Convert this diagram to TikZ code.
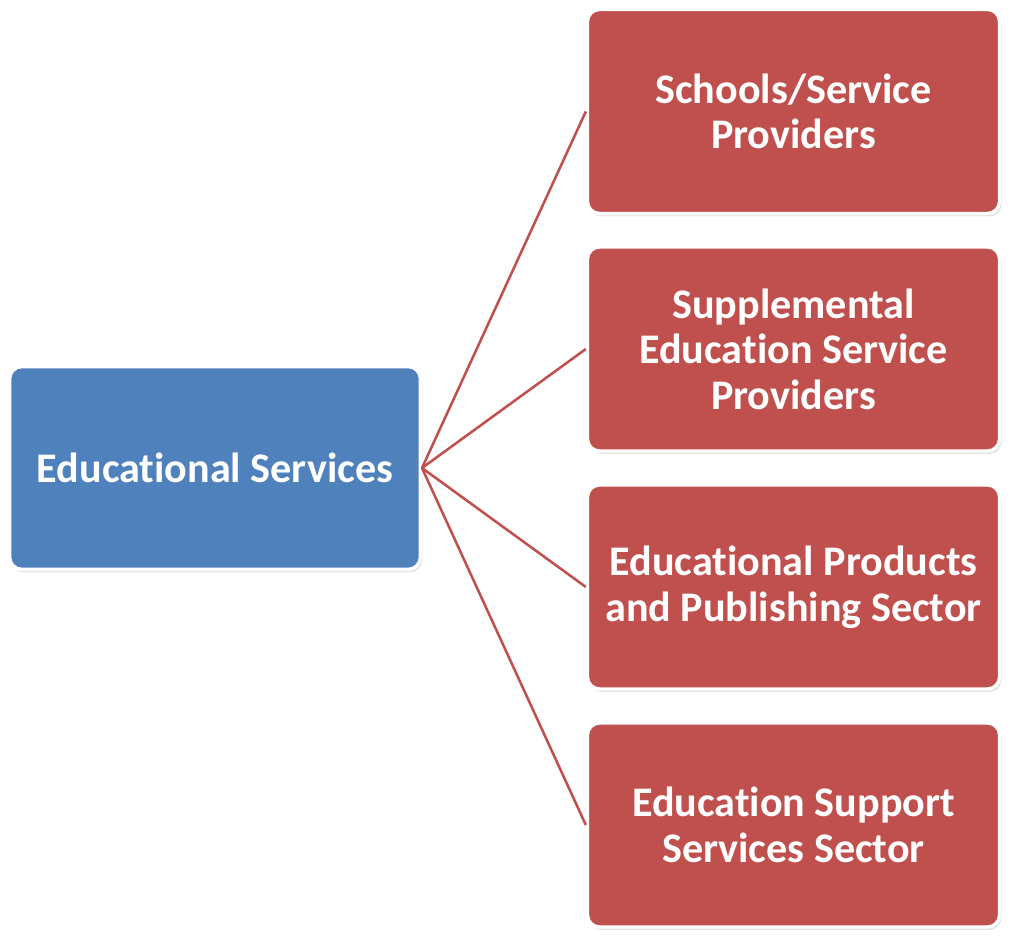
\documentclass[tikz,border=0pt]{standalone}
\usepackage{fontspec}
\setmainfont{Carlito}[Ligatures={NoCommon,NoRequired,NoContextual}]
\usetikzlibrary{shadows}
\definecolor{officeblue}{HTML}{4F81BD}
\definecolor{officered}{HTML}{C0504D}

\begin{document}
\begin{tikzpicture}[x=0.75pt,y=0.75pt,
    box/.style={draw=white, line width=2.5pt, rounded corners=9pt,
        text=white, align=center, inner sep=0pt,
        font=\fontsize{31.6}{34.2}\selectfont\bfseries,
        drop shadow={opacity=0.22, shadow xshift=1.5pt, shadow yshift=-2.2pt}},
    rootbox/.style={box, fill=officeblue, minimum width=308pt, minimum height=152pt},
    leafbox/.style={box, fill=officered, minimum width=309pt, minimum height=153pt},
    link/.style={officered, line width=1.9pt}]
    % Frame
    \useasboundingbox (0,0) rectangle (1024,938);

    % Root
    \node[rootbox] (edu) at (215,470) {Educational Services};

    % Sectors
    \node[leafbox] (schools) at (793.5,826.5) {Schools/Service\\Providers};
    \node[leafbox] (supplemental) at (793.5,589) {Supplemental\\Education Service\\Providers};
    \node[leafbox] (products) at (793.5,351) {Educational Products\\and Publishing Sector};
    \node[leafbox] (support) at (793.5,113) {Education Support\\Services Sector};

    % Connectors
    \draw[link] (edu.east) -- (schools.west);
    \draw[link] (edu.east) -- (supplemental.west);
    \draw[link] (edu.east) -- (products.west);
    \draw[link] (edu.east) -- (support.west);
\end{tikzpicture}
\end{document}
